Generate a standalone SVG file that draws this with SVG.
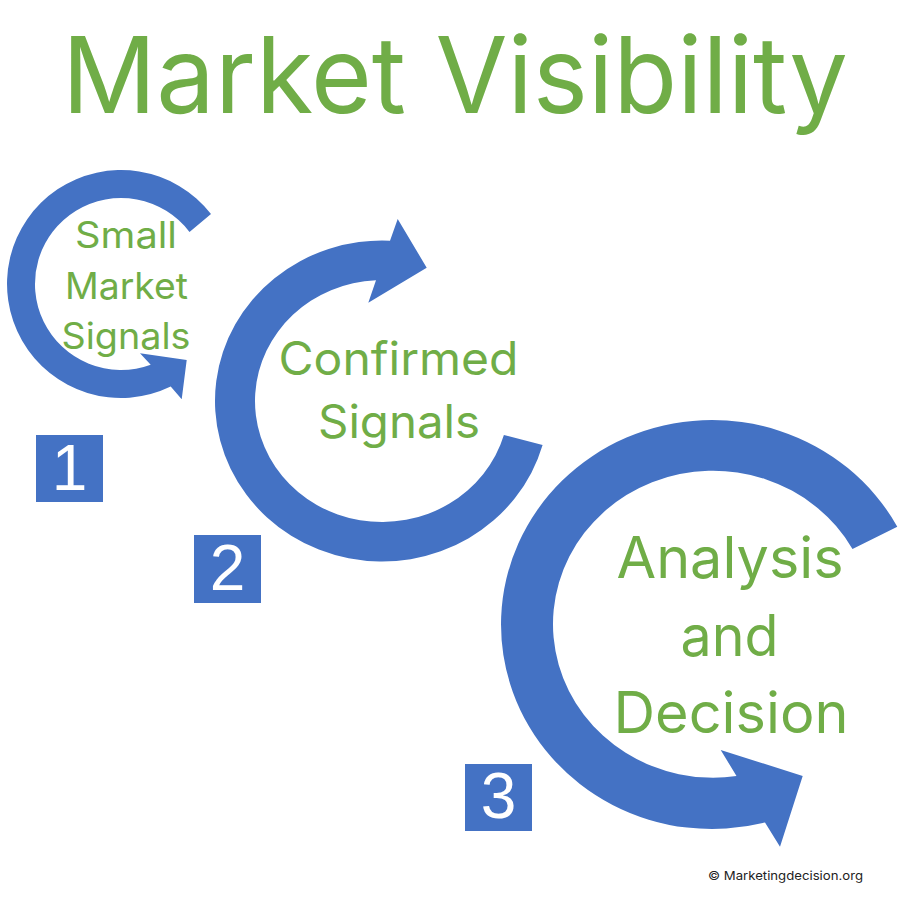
<svg xmlns="http://www.w3.org/2000/svg" width="900" height="900" viewBox="0 0 900 900">
  <style>
    .arrow { fill: #4472C4; stroke: none; }
    .label { fill: #70AD47; font-family: Inter, "Liberation Sans", Arial, sans-serif; text-anchor: middle; }
    .badge { fill: #4472C4; }
    .num { fill: #FFFFFF; font-family: "Liberation Sans", Arial, sans-serif; font-size: 64px; text-anchor: middle; }
  </style>
  <rect width="900" height="900" fill="#FFFFFF"/>

  <g id="title">
    <text x="62" y="113" font-family="Inter, 'Liberation Sans', Arial, sans-serif" font-size="106" fill="#70AD47" textLength="786" lengthAdjust="spacingAndGlyphs">Market Visibility</text>
  </g>

  <g id="step1">
    <path class="arrow" d="M 211,214 A 114 114 0 1 0 170.7,386.6 L 181.7,399.3 L 186.7,360 L 140,353.3 L 150.7,364.7 A 86 86 0 1 1 189.5,232 Z"/>
    <g class="label" font-size="37">
      <text x="126" y="247.5" textLength="102" lengthAdjust="spacingAndGlyphs">Small</text>
      <text x="126.5" y="299" textLength="123" lengthAdjust="spacingAndGlyphs">Market</text>
      <text x="126" y="348.5" textLength="129" lengthAdjust="spacingAndGlyphs">Signals</text>
    </g>
  </g>

  <g id="step2">
    <path class="arrow" d="M 542.6,445 A 167 160.5 0 1 1 390,240.7 L 397.7,219 L 426.7,267.7 L 368.3,302.7 L 376,280.2 A 127 121 0 1 0 503.9,435 Z"/>
    <g class="label" font-size="46">
      <text x="398.5" y="375" textLength="240" lengthAdjust="spacingAndGlyphs">Confirmed</text>
      <text x="399" y="437.5" textLength="162" lengthAdjust="spacingAndGlyphs">Signals</text>
    </g>
  </g>

  <g id="step3">
    <path class="arrow" d="M 897.3,526.7 A 211 204.5 0 1 0 765,822.5 L 780,846.7 L 802.7,776 L 720.7,750 L 736.5,776 A 160 153.5 0 1 1 852.5,549 Z"/>
    <g class="label" font-size="57">
      <text x="730" y="577.5" textLength="227" lengthAdjust="spacingAndGlyphs">Analysis</text>
      <text x="729.5" y="656" textLength="98" lengthAdjust="spacingAndGlyphs">and</text>
      <text x="731" y="732.5" textLength="235" lengthAdjust="spacingAndGlyphs">Decision</text>
    </g>
  </g>

  <g id="badge1">
    <rect class="badge" x="36" y="435" width="67" height="67"/>
    <text class="num" x="69.5" y="489.5">1</text>
  </g>
  <g id="badge2">
    <rect class="badge" x="194" y="535" width="67" height="68"/>
    <text class="num" x="227.5" y="590">2</text>
  </g>
  <g id="badge3">
    <rect class="badge" x="465" y="764" width="67" height="67"/>
    <text class="num" x="498.5" y="817.5">3</text>
  </g>

  <g id="copyright">
    <text x="708" y="880" font-family="Inter, 'Liberation Sans', Arial, sans-serif" font-size="12" fill="#222222" textLength="155" lengthAdjust="spacingAndGlyphs">© Marketingdecision.org</text>
  </g>
</svg>
